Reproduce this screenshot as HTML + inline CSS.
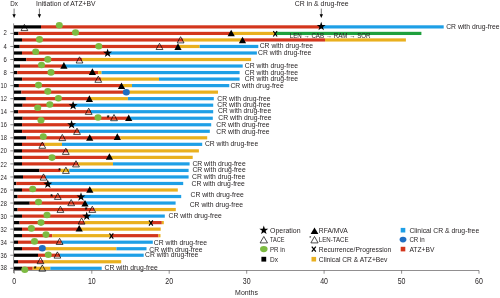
<!DOCTYPE html>
<html lang="en"><head><meta charset="utf-8"><title>Swimmer plot</title>
<style>html,body{margin:0;padding:0;background:#fff}body{width:500px;height:298px;overflow:hidden}svg{display:block}text{font-family:"Liberation Sans",sans-serif;font-size:7.3px;fill:#231F20}</style></head><body>
<svg width="500" height="298" viewBox="0 0 500 298">
<rect width="500" height="298" fill="#fff"/>
<g>
<rect x="14.0" y="25.30" width="27.0" height="3.2" fill="#000000"/>
<rect x="41.0" y="25.30" width="280.2" height="3.2" fill="#D3361C"/>
<rect x="321.2" y="25.30" width="122.5" height="3.2" fill="#1E9FE6"/>
<rect x="14.0" y="31.82" width="4.5" height="3.2" fill="#000000"/>
<rect x="18.5" y="31.82" width="212.7" height="3.2" fill="#D3361C"/>
<rect x="231.2" y="31.82" width="44.0" height="3.2" fill="#E9B01E"/>
<rect x="275.2" y="31.82" width="146.2" height="3.2" fill="#1FA03C"/>
<rect x="14.0" y="38.35" width="8.0" height="3.2" fill="#000000"/>
<rect x="22.0" y="38.35" width="161.0" height="3.2" fill="#D3361C"/>
<rect x="183.0" y="38.35" width="59.5" height="3.2" fill="#E9B01E"/>
<rect x="242.5" y="38.35" width="82.5" height="3.2" fill="#D3361C"/>
<rect x="325.0" y="38.35" width="80.9" height="3.2" fill="#E9B01E"/>
<rect x="14.0" y="44.87" width="5.7" height="3.2" fill="#000000"/>
<rect x="19.7" y="44.87" width="158.3" height="3.2" fill="#D3361C"/>
<rect x="178.0" y="44.87" width="21.7" height="3.2" fill="#E9B01E"/>
<rect x="199.7" y="44.87" width="58.6" height="3.2" fill="#1E9FE6"/>
<rect x="14.0" y="51.40" width="8.0" height="3.2" fill="#000000"/>
<rect x="22.0" y="51.40" width="85.6" height="3.2" fill="#D3361C"/>
<rect x="107.6" y="51.40" width="149.3" height="3.2" fill="#1E9FE6"/>
<rect x="14.0" y="57.92" width="12.2" height="3.2" fill="#000000"/>
<rect x="26.2" y="57.92" width="55.8" height="3.2" fill="#D3361C"/>
<rect x="82.0" y="57.92" width="169.1" height="3.2" fill="#E9B01E"/>
<rect x="14.0" y="64.44" width="6.0" height="3.2" fill="#000000"/>
<rect x="20.0" y="64.44" width="44.6" height="3.2" fill="#D3361C"/>
<rect x="64.6" y="64.44" width="178.1" height="3.2" fill="#1E9FE6"/>
<rect x="14.0" y="70.97" width="3.3" height="3.2" fill="#000000"/>
<rect x="17.3" y="70.97" width="80.8" height="3.2" fill="#D3361C"/>
<rect x="98.1" y="70.97" width="3.5" height="3.2" fill="#E9B01E"/>
<rect x="101.6" y="70.97" width="138.0" height="3.2" fill="#1E9FE6"/>
<rect x="14.0" y="77.49" width="8.1" height="3.2" fill="#000000"/>
<rect x="22.1" y="77.49" width="78.9" height="3.2" fill="#D3361C"/>
<rect x="101.0" y="77.49" width="58.0" height="3.2" fill="#E9B01E"/>
<rect x="159.0" y="77.49" width="80.6" height="3.2" fill="#1E9FE6"/>
<rect x="14.0" y="84.02" width="4.9" height="3.2" fill="#000000"/>
<rect x="18.9" y="84.02" width="102.6" height="3.2" fill="#D3361C"/>
<rect x="121.5" y="84.02" width="10.5" height="3.2" fill="#E9B01E"/>
<rect x="132.0" y="84.02" width="97.3" height="3.2" fill="#1E9FE6"/>
<rect x="14.0" y="90.54" width="7.4" height="3.2" fill="#000000"/>
<rect x="21.4" y="90.54" width="104.9" height="3.2" fill="#D3361C"/>
<rect x="126.3" y="90.54" width="91.7" height="3.2" fill="#E9B01E"/>
<rect x="14.0" y="97.06" width="11.9" height="3.2" fill="#000000"/>
<rect x="25.9" y="97.06" width="63.5" height="3.2" fill="#D3361C"/>
<rect x="89.4" y="97.06" width="38.5" height="3.2" fill="#E9B01E"/>
<rect x="127.9" y="97.06" width="85.9" height="3.2" fill="#1E9FE6"/>
<rect x="14.0" y="103.59" width="8.6" height="3.2" fill="#000000"/>
<rect x="22.6" y="103.59" width="50.5" height="3.2" fill="#D3361C"/>
<rect x="73.1" y="103.59" width="140.1" height="3.2" fill="#1E9FE6"/>
<rect x="14.0" y="110.11" width="4.2" height="3.2" fill="#000000"/>
<rect x="18.2" y="110.11" width="72.8" height="3.2" fill="#D3361C"/>
<rect x="91.0" y="110.11" width="122.2" height="3.2" fill="#1E9FE6"/>
<rect x="14.0" y="116.64" width="8.6" height="3.2" fill="#000000"/>
<rect x="22.6" y="116.64" width="106.1" height="3.2" fill="#D3361C"/>
<rect x="128.7" y="116.64" width="84.1" height="3.2" fill="#1E9FE6"/>
<rect x="14.0" y="123.16" width="8.1" height="3.2" fill="#000000"/>
<rect x="22.1" y="123.16" width="49.5" height="3.2" fill="#D3361C"/>
<rect x="71.6" y="123.16" width="139.6" height="3.2" fill="#1E9FE6"/>
<rect x="14.0" y="129.68" width="8.1" height="3.2" fill="#000000"/>
<rect x="22.1" y="129.68" width="57.2" height="3.2" fill="#D3361C"/>
<rect x="79.3" y="129.68" width="130.5" height="3.2" fill="#1E9FE6"/>
<rect x="14.0" y="136.21" width="12.4" height="3.2" fill="#000000"/>
<rect x="26.4" y="136.21" width="94.0" height="3.2" fill="#D3361C"/>
<rect x="120.4" y="136.21" width="86.8" height="3.2" fill="#E9B01E"/>
<rect x="14.0" y="142.73" width="8.0" height="3.2" fill="#000000"/>
<rect x="22.0" y="142.73" width="22.6" height="3.2" fill="#D3361C"/>
<rect x="44.6" y="142.73" width="17.4" height="3.2" fill="#E9B01E"/>
<rect x="62.0" y="142.73" width="140.2" height="3.2" fill="#1E9FE6"/>
<rect x="14.0" y="149.26" width="8.0" height="3.2" fill="#000000"/>
<rect x="22.0" y="149.26" width="46.2" height="3.2" fill="#D3361C"/>
<rect x="68.2" y="149.26" width="130.7" height="3.2" fill="#E9B01E"/>
<rect x="14.0" y="155.78" width="8.0" height="3.2" fill="#000000"/>
<rect x="22.0" y="155.78" width="87.4" height="3.2" fill="#D3361C"/>
<rect x="109.4" y="155.78" width="83.3" height="3.2" fill="#E9B01E"/>
<rect x="14.0" y="162.30" width="8.0" height="3.2" fill="#000000"/>
<rect x="22.0" y="162.30" width="56.3" height="3.2" fill="#D3361C"/>
<rect x="78.3" y="162.30" width="34.7" height="3.2" fill="#E9B01E"/>
<rect x="113.0" y="162.30" width="76.6" height="3.2" fill="#1E9FE6"/>
<rect x="14.0" y="168.83" width="25.5" height="3.2" fill="#000000"/>
<rect x="39.5" y="168.83" width="21.0" height="3.2" fill="#D3361C"/>
<rect x="60.5" y="168.83" width="8.7" height="3.2" fill="#E9B01E"/>
<rect x="69.2" y="168.83" width="119.4" height="3.2" fill="#1E9FE6"/>
<rect x="14.0" y="175.35" width="9.0" height="3.2" fill="#000000"/>
<rect x="23.0" y="175.35" width="22.8" height="3.2" fill="#D3361C"/>
<rect x="45.8" y="175.35" width="142.8" height="3.2" fill="#1E9FE6"/>
<rect x="14.0" y="181.88" width="2.3" height="3.2" fill="#000000"/>
<rect x="16.3" y="181.88" width="31.5" height="3.2" fill="#D3361C"/>
<rect x="47.8" y="181.88" width="135.4" height="3.2" fill="#1E9FE6"/>
<rect x="14.0" y="188.40" width="8.0" height="3.2" fill="#000000"/>
<rect x="22.0" y="188.40" width="67.8" height="3.2" fill="#D3361C"/>
<rect x="89.8" y="188.40" width="88.0" height="3.2" fill="#E9B01E"/>
<rect x="14.0" y="194.92" width="3.6" height="3.2" fill="#000000"/>
<rect x="17.6" y="194.92" width="63.4" height="3.2" fill="#D3361C"/>
<rect x="81.0" y="194.92" width="100.2" height="3.2" fill="#1E9FE6"/>
<rect x="14.0" y="201.45" width="15.7" height="3.2" fill="#000000"/>
<rect x="29.7" y="201.45" width="56.3" height="3.2" fill="#D3361C"/>
<rect x="86.0" y="201.45" width="89.6" height="3.2" fill="#1E9FE6"/>
<rect x="14.0" y="207.97" width="3.6" height="3.2" fill="#000000"/>
<rect x="17.6" y="207.97" width="77.0" height="3.2" fill="#D3361C"/>
<rect x="94.6" y="207.97" width="81.2" height="3.2" fill="#E9B01E"/>
<rect x="14.0" y="214.50" width="8.0" height="3.2" fill="#000000"/>
<rect x="22.0" y="214.50" width="64.7" height="3.2" fill="#D3361C"/>
<rect x="86.7" y="214.50" width="78.1" height="3.2" fill="#1E9FE6"/>
<rect x="14.0" y="221.02" width="5.6" height="3.2" fill="#000000"/>
<rect x="19.6" y="221.02" width="64.9" height="3.2" fill="#D3361C"/>
<rect x="84.5" y="221.02" width="66.4" height="3.2" fill="#E9B01E"/>
<rect x="150.9" y="221.02" width="10.9" height="3.2" fill="#D3361C"/>
<rect x="161.8" y="221.02" width="2.0" height="3.2" fill="#E9B01E"/>
<rect x="14.0" y="227.54" width="8.0" height="3.2" fill="#000000"/>
<rect x="22.0" y="227.54" width="57.7" height="3.2" fill="#D3361C"/>
<rect x="79.7" y="227.54" width="81.0" height="3.2" fill="#E9B01E"/>
<rect x="14.0" y="234.07" width="8.0" height="3.2" fill="#000000"/>
<rect x="22.0" y="234.07" width="30.2" height="3.2" fill="#D3361C"/>
<rect x="52.2" y="234.07" width="59.2" height="3.2" fill="#E9B01E"/>
<rect x="111.4" y="234.07" width="47.1" height="3.2" fill="#D3361C"/>
<rect x="158.5" y="234.07" width="2.0" height="3.2" fill="#E9B01E"/>
<rect x="14.0" y="240.59" width="4.0" height="3.2" fill="#000000"/>
<rect x="18.0" y="240.59" width="43.6" height="3.2" fill="#D3361C"/>
<rect x="61.6" y="240.59" width="91.2" height="3.2" fill="#1E9FE6"/>
<rect x="14.0" y="247.12" width="8.0" height="3.2" fill="#000000"/>
<rect x="22.0" y="247.12" width="20.3" height="3.2" fill="#D3361C"/>
<rect x="42.3" y="247.12" width="74.1" height="3.2" fill="#E9B01E"/>
<rect x="116.4" y="247.12" width="30.1" height="3.2" fill="#1E9FE6"/>
<rect x="14.0" y="253.64" width="24.0" height="3.2" fill="#000000"/>
<rect x="38.0" y="253.64" width="22.0" height="3.2" fill="#D3361C"/>
<rect x="60.0" y="253.64" width="83.7" height="3.2" fill="#1E9FE6"/>
<rect x="14.0" y="260.16" width="4.0" height="3.2" fill="#000000"/>
<rect x="18.0" y="260.16" width="25.5" height="3.2" fill="#D3361C"/>
<rect x="43.5" y="260.16" width="77.7" height="3.2" fill="#E9B01E"/>
<rect x="14.0" y="266.69" width="8.0" height="3.2" fill="#000000"/>
<rect x="22.0" y="266.69" width="10.7" height="3.2" fill="#D3361C"/>
<rect x="32.7" y="266.69" width="17.6" height="3.2" fill="#E9B01E"/>
<rect x="50.3" y="266.69" width="51.4" height="3.2" fill="#1E9FE6"/>
</g>
<g stroke="#231F20" stroke-width="0.5" fill="none">
<path d="M13.6 23.4V273"/>
<path d="M13.6 270.5H479"/>
<path d="M10.3 33.42H13.6"/>
<path d="M10.3 46.47H13.6"/>
<path d="M10.3 59.52H13.6"/>
<path d="M10.3 72.57H13.6"/>
<path d="M10.3 85.62H13.6"/>
<path d="M10.3 98.66H13.6"/>
<path d="M10.3 111.71H13.6"/>
<path d="M10.3 124.76H13.6"/>
<path d="M10.3 137.81H13.6"/>
<path d="M10.3 150.86H13.6"/>
<path d="M10.3 163.90H13.6"/>
<path d="M10.3 176.95H13.6"/>
<path d="M10.3 190.00H13.6"/>
<path d="M10.3 203.05H13.6"/>
<path d="M10.3 216.10H13.6"/>
<path d="M10.3 229.14H13.6"/>
<path d="M10.3 242.19H13.6"/>
<path d="M10.3 255.24H13.6"/>
<path d="M10.3 268.29H13.6"/>
<path d="M14.3 270.5V273.7"/>
<path d="M91.8 270.5V273.7"/>
<path d="M169.2 270.5V273.7"/>
<path d="M246.7 270.5V273.7"/>
<path d="M324.1 270.5V273.7"/>
<path d="M401.6 270.5V273.7"/>
<path d="M479.0 270.5V273.7"/>
</g>
<g style="font-size:8.2px">
<text x="3.6" y="35.42" textLength="3.3" lengthAdjust="spacingAndGlyphs">2</text>
<text x="3.6" y="49.07" textLength="3.3" lengthAdjust="spacingAndGlyphs">4</text>
<text x="3.6" y="62.12" textLength="3.3" lengthAdjust="spacingAndGlyphs">6</text>
<text x="3.6" y="75.17" textLength="3.3" lengthAdjust="spacingAndGlyphs">8</text>
<text x="0.6" y="88.22" textLength="6.3" lengthAdjust="spacingAndGlyphs">10</text>
<text x="0.6" y="101.26" textLength="6.3" lengthAdjust="spacingAndGlyphs">12</text>
<text x="0.6" y="114.31" textLength="6.3" lengthAdjust="spacingAndGlyphs">14</text>
<text x="0.6" y="127.36" textLength="6.3" lengthAdjust="spacingAndGlyphs">16</text>
<text x="0.6" y="140.41" textLength="6.3" lengthAdjust="spacingAndGlyphs">18</text>
<text x="0.6" y="153.46" textLength="6.3" lengthAdjust="spacingAndGlyphs">20</text>
<text x="0.6" y="166.50" textLength="6.3" lengthAdjust="spacingAndGlyphs">22</text>
<text x="0.6" y="179.55" textLength="6.3" lengthAdjust="spacingAndGlyphs">24</text>
<text x="0.6" y="192.60" textLength="6.3" lengthAdjust="spacingAndGlyphs">26</text>
<text x="0.6" y="205.65" textLength="6.3" lengthAdjust="spacingAndGlyphs">28</text>
<text x="0.6" y="218.70" textLength="6.3" lengthAdjust="spacingAndGlyphs">30</text>
<text x="0.6" y="231.74" textLength="6.3" lengthAdjust="spacingAndGlyphs">32</text>
<text x="0.6" y="244.79" textLength="6.3" lengthAdjust="spacingAndGlyphs">34</text>
<text x="0.6" y="257.84" textLength="6.3" lengthAdjust="spacingAndGlyphs">36</text>
<text x="0.6" y="270.39" textLength="6.3" lengthAdjust="spacingAndGlyphs">38</text>
</g>
<g text-anchor="middle">
<text x="14.3" y="283.7" style="font-size:8.2px" textLength="3.9" lengthAdjust="spacingAndGlyphs">0</text>
<text x="91.8" y="283.7" style="font-size:8.2px" textLength="7.8" lengthAdjust="spacingAndGlyphs">10</text>
<text x="169.2" y="283.7" style="font-size:8.2px" textLength="7.8" lengthAdjust="spacingAndGlyphs">20</text>
<text x="246.7" y="283.7" style="font-size:8.2px" textLength="7.8" lengthAdjust="spacingAndGlyphs">30</text>
<text x="324.1" y="283.7" style="font-size:8.2px" textLength="7.8" lengthAdjust="spacingAndGlyphs">40</text>
<text x="401.6" y="283.7" style="font-size:8.2px" textLength="7.8" lengthAdjust="spacingAndGlyphs">50</text>
<text x="479.0" y="283.7" style="font-size:8.2px" textLength="7.8" lengthAdjust="spacingAndGlyphs">60</text>
<text x="246.5" y="295.3" textLength="22.8" lengthAdjust="spacingAndGlyphs">Months</text>
</g>
<g>
<ellipse cx="59.3" cy="25.3" rx="3.5" ry="3.3" fill="#7DBB42"/>
<ellipse cx="75.5" cy="32.5" rx="3.5" ry="3.3" fill="#7DBB42"/>
<ellipse cx="39.5" cy="39.4" rx="3.5" ry="3.3" fill="#7DBB42"/>
<ellipse cx="98.8" cy="46.2" rx="3.5" ry="3.3" fill="#7DBB42"/>
<ellipse cx="35.7" cy="51.8" rx="3.5" ry="3.3" fill="#7DBB42"/>
<ellipse cx="47.8" cy="59.4" rx="3.5" ry="3.3" fill="#7DBB42"/>
<ellipse cx="41.5" cy="65" rx="3.5" ry="3.3" fill="#7DBB42"/>
<ellipse cx="51" cy="72.4" rx="3.5" ry="3.3" fill="#7DBB42"/>
<ellipse cx="38.5" cy="85.1" rx="3.5" ry="3.3" fill="#7DBB42"/>
<ellipse cx="47.8" cy="91.4" rx="3.5" ry="3.3" fill="#7DBB42"/>
<ellipse cx="58.4" cy="98.2" rx="3.5" ry="3.3" fill="#7DBB42"/>
<ellipse cx="49.8" cy="104.5" rx="3.5" ry="3.3" fill="#7DBB42"/>
<ellipse cx="37.7" cy="107.7" rx="3.5" ry="3.3" fill="#7DBB42"/>
<ellipse cx="98" cy="117.5" rx="3.5" ry="3.3" fill="#7DBB42"/>
<ellipse cx="41" cy="120.3" rx="3.5" ry="3.3" fill="#7DBB42"/>
<ellipse cx="43.3" cy="136.6" rx="3.5" ry="3.3" fill="#7DBB42"/>
<ellipse cx="52" cy="157.6" rx="3.5" ry="3.3" fill="#7DBB42"/>
<ellipse cx="32.7" cy="189" rx="3.5" ry="3.3" fill="#7DBB42"/>
<ellipse cx="38.5" cy="202" rx="3.5" ry="3.3" fill="#7DBB42"/>
<ellipse cx="47" cy="215" rx="3.5" ry="3.3" fill="#7DBB42"/>
<ellipse cx="41" cy="222.6" rx="3.5" ry="3.3" fill="#7DBB42"/>
<ellipse cx="31.4" cy="228.4" rx="3.5" ry="3.3" fill="#7DBB42"/>
<ellipse cx="46" cy="234.6" rx="3.5" ry="3.3" fill="#7DBB42"/>
<ellipse cx="34.5" cy="241.4" rx="3.5" ry="3.3" fill="#7DBB42"/>
<ellipse cx="48.3" cy="254.8" rx="3.5" ry="3.3" fill="#7DBB42"/>
<ellipse cx="24.8" cy="269.7" rx="3.5" ry="3.3" fill="#7DBB42"/>
<ellipse cx="126.3" cy="92.2" rx="3.5" ry="3.2" fill="#1F6FC4"/>
<ellipse cx="42.3" cy="248.2" rx="3.5" ry="3.2" fill="#1F6FC4"/>
<polygon points="24.40,24.40 27.80,30.60 21.00,30.60" fill="none" stroke="#000" stroke-width="0.7"/>
<polygon points="180.60,36.70 184.00,42.90 177.20,42.90" fill="none" stroke="#000" stroke-width="0.7"/>
<polygon points="159.50,43.30 162.90,49.50 156.10,49.50" fill="none" stroke="#000" stroke-width="0.7"/>
<polygon points="79.50,56.80 82.90,63.00 76.10,63.00" fill="none" stroke="#000" stroke-width="0.7"/>
<polygon points="98.30,76.10 101.70,82.30 94.90,82.30" fill="none" stroke="#000" stroke-width="0.7"/>
<polygon points="88.70,108.20 92.10,114.40 85.30,114.40" fill="none" stroke="#000" stroke-width="0.7"/>
<polygon points="114.00,114.50 117.40,120.70 110.60,120.70" fill="none" stroke="#000" stroke-width="0.7"/>
<polygon points="77.00,128.20 80.40,134.40 73.60,134.40" fill="none" stroke="#000" stroke-width="0.7"/>
<polygon points="62.30,134.40 65.70,140.60 58.90,140.60" fill="none" stroke="#000" stroke-width="0.7"/>
<polygon points="42.30,142.10 45.70,148.30 38.90,148.30" fill="none" stroke="#000" stroke-width="0.7"/>
<polygon points="65.80,148.20 69.20,154.40 62.40,154.40" fill="none" stroke="#000" stroke-width="0.7"/>
<polygon points="76.00,160.70 79.40,166.90 72.60,166.90" fill="none" stroke="#000" stroke-width="0.7"/>
<polygon points="65.90,167.20 69.30,173.40 62.50,173.40" fill="none" stroke="#000" stroke-width="0.7"/>
<polygon points="43.50,173.90 46.90,180.10 40.10,180.10" fill="none" stroke="#000" stroke-width="0.7"/>
<polygon points="57.80,193.20 61.20,199.40 54.40,199.40" fill="none" stroke="#000" stroke-width="0.7"/>
<polygon points="71.20,199.50 74.60,205.70 67.80,205.70" fill="none" stroke="#000" stroke-width="0.7"/>
<polygon points="60.40,206.20 63.80,212.40 57.00,212.40" fill="none" stroke="#000" stroke-width="0.7"/>
<polygon points="92.30,206.20 95.70,212.40 88.90,212.40" fill="none" stroke="#000" stroke-width="0.7"/>
<polygon points="81.60,217.90 85.00,224.10 78.20,224.10" fill="none" stroke="#000" stroke-width="0.7"/>
<polygon points="59.60,238.30 63.00,244.50 56.20,244.50" fill="none" stroke="#000" stroke-width="0.7"/>
<polygon points="57.40,251.90 60.80,258.10 54.00,258.10" fill="none" stroke="#000" stroke-width="0.7"/>
<polygon points="40.50,257.50 43.90,263.70 37.10,263.70" fill="none" stroke="#000" stroke-width="0.7"/>
<polygon points="42.30,265.00 45.70,271.20 38.90,271.20" fill="none" stroke="#000" stroke-width="0.7"/>
<polygon points="231.20,29.70 234.80,36.30 227.60,36.30" fill="#000"/>
<polygon points="242.50,36.70 246.10,43.30 238.90,43.30" fill="#000"/>
<polygon points="178.00,43.30 181.60,49.90 174.40,49.90" fill="#000"/>
<polygon points="63.90,62.10 67.50,68.70 60.30,68.70" fill="#000"/>
<polygon points="92.40,68.30 96.00,74.90 88.80,74.90" fill="#000"/>
<polygon points="121.50,82.40 125.10,89.00 117.90,89.00" fill="#000"/>
<polygon points="89.40,95.30 93.00,101.90 85.80,101.90" fill="#000"/>
<polygon points="128.70,114.50 132.30,121.10 125.10,121.10" fill="#000"/>
<polygon points="89.70,134.20 93.30,140.80 86.10,140.80" fill="#000"/>
<polygon points="117.30,133.30 120.90,139.90 113.70,139.90" fill="#000"/>
<polygon points="109.40,153.20 113.00,159.80 105.80,159.80" fill="#000"/>
<polygon points="89.80,186.20 93.40,192.80 86.20,192.80" fill="#000"/>
<polygon points="85.00,200.00 88.60,206.60 81.40,206.60" fill="#000"/>
<polygon points="79.20,225.00 82.80,231.60 75.60,231.60" fill="#000"/>
<polygon points="321.20,21.70 322.29,24.90 325.67,24.95 322.96,26.97 323.96,30.20 321.20,28.25 318.44,30.20 319.44,26.97 316.73,24.95 320.11,24.90" fill="#000"/>
<polygon points="107.60,48.50 108.69,51.70 112.07,51.75 109.36,53.77 110.36,57.00 107.60,55.05 104.84,57.00 105.84,53.77 103.13,51.75 106.51,51.70" fill="#000"/>
<polygon points="73.10,100.90 74.19,104.10 77.57,104.15 74.86,106.17 75.86,109.40 73.10,107.45 70.34,109.40 71.34,106.17 68.63,104.15 72.01,104.10" fill="#000"/>
<polygon points="71.60,120.00 72.69,123.20 76.07,123.25 73.36,125.27 74.36,128.50 71.60,126.55 68.84,128.50 69.84,125.27 67.13,123.25 70.51,123.20" fill="#000"/>
<polygon points="47.80,179.40 48.89,182.60 52.27,182.65 49.56,184.67 50.56,187.90 47.80,185.95 45.04,187.90 46.04,184.67 43.33,182.65 46.71,182.60" fill="#000"/>
<polygon points="81.00,192.20 82.09,195.40 85.47,195.45 82.76,197.47 83.76,200.70 81.00,198.75 78.24,200.70 79.24,197.47 76.53,195.45 79.91,195.40" fill="#000"/>
<polygon points="86.70,211.50 87.79,214.70 91.17,214.75 88.46,216.77 89.46,220.00 86.70,218.05 83.94,220.00 84.94,216.77 82.23,214.75 85.61,214.70" fill="#000"/>
<path d="M273.30 31.10L277.10 36.50M277.10 31.10L273.30 36.50" stroke="#000" stroke-width="1.15" fill="none"/>
<path d="M149.00 220.30L152.80 225.70M152.80 220.30L149.00 225.70" stroke="#000" stroke-width="1.15" fill="none"/>
<path d="M109.50 233.30L113.30 238.70M113.30 233.30L109.50 238.70" stroke="#000" stroke-width="1.15" fill="none"/>
<text x="108" y="120.39999999999999" text-anchor="middle" style="font-size:7px;font-weight:bold;fill:#000">*</text>
<text x="59.6" y="173.1" text-anchor="middle" style="font-size:7px;font-weight:bold;fill:#000">*</text>
<text x="51.6" y="199.1" text-anchor="middle" style="font-size:7px;font-weight:bold;fill:#000">*</text>
<text x="86" y="212.1" text-anchor="middle" style="font-size:7px;font-weight:bold;fill:#000">*</text>
<text x="35.2" y="270.90000000000003" text-anchor="middle" style="font-size:7px;font-weight:bold;fill:#000">*</text>
</g>
<g>
<text x="446.2" y="28.90" textLength="53.3" lengthAdjust="spacingAndGlyphs">CR with drug-free</text>
<text x="259.7" y="48.00" textLength="53.3" lengthAdjust="spacingAndGlyphs">CR with drug-free</text>
<text x="258.0" y="55.00" textLength="53.3" lengthAdjust="spacingAndGlyphs">CR with drug-free</text>
<text x="244.8" y="68.04" textLength="53.3" lengthAdjust="spacingAndGlyphs">CR with drug-free</text>
<text x="244.8" y="74.57" textLength="53.3" lengthAdjust="spacingAndGlyphs">CR with drug-free</text>
<text x="244.8" y="81.00" textLength="53.3" lengthAdjust="spacingAndGlyphs">CR with drug-free</text>
<text x="230.4" y="87.60" textLength="53.3" lengthAdjust="spacingAndGlyphs">CR with drug-free</text>
<text x="217.3" y="101.20" textLength="53.3" lengthAdjust="spacingAndGlyphs">CR with drug-free</text>
<text x="217.3" y="106.90" textLength="53.3" lengthAdjust="spacingAndGlyphs">CR with drug-free</text>
<text x="217.9" y="113.30" textLength="53.3" lengthAdjust="spacingAndGlyphs">CR with drug-free</text>
<text x="218.3" y="120.00" textLength="53.3" lengthAdjust="spacingAndGlyphs">CR with drug-free</text>
<text x="216.3" y="127.40" textLength="53.3" lengthAdjust="spacingAndGlyphs">CR with drug-free</text>
<text x="216.3" y="134.10" textLength="53.3" lengthAdjust="spacingAndGlyphs">CR with drug-free</text>
<text x="204.9" y="146.33" textLength="53.3" lengthAdjust="spacingAndGlyphs">CR with drug-free</text>
<text x="192.4" y="165.90" textLength="53.3" lengthAdjust="spacingAndGlyphs">CR with drug-free</text>
<text x="192.4" y="172.43" textLength="53.3" lengthAdjust="spacingAndGlyphs">CR with drug-free</text>
<text x="192.0" y="178.95" textLength="53.3" lengthAdjust="spacingAndGlyphs">CR with drug-free</text>
<text x="191.6" y="186.40" textLength="53.3" lengthAdjust="spacingAndGlyphs">CR with drug-free</text>
<text x="190.5" y="197.20" textLength="53.3" lengthAdjust="spacingAndGlyphs">CR with drug-free</text>
<text x="189.7" y="206.80" textLength="53.3" lengthAdjust="spacingAndGlyphs">CR with drug-free</text>
<text x="168.5" y="218.10" textLength="53.3" lengthAdjust="spacingAndGlyphs">CR with drug-free</text>
<text x="153.8" y="244.90" textLength="53.3" lengthAdjust="spacingAndGlyphs">CR with drug-free</text>
<text x="149.3" y="251.90" textLength="53.3" lengthAdjust="spacingAndGlyphs">CR with drug-free</text>
<text x="145.0" y="257.40" textLength="53.3" lengthAdjust="spacingAndGlyphs">CR with drug-free</text>
<text x="104.5" y="270.29" textLength="53.3" lengthAdjust="spacingAndGlyphs">CR with drug-free</text>
<text x="289.7" y="38.2" textLength="80.9" lengthAdjust="spacingAndGlyphs">LEN → CAB → RAM → SOR</text>
</g>
<g>
<text x="10.3" y="6.2" textLength="7.7" lengthAdjust="spacingAndGlyphs">Dx</text>
<text x="36" y="6.2" textLength="59.6" lengthAdjust="spacingAndGlyphs">Initiation of ATZ+BV</text>
<text x="294.8" y="6.2" textLength="53.9" lengthAdjust="spacingAndGlyphs">CR in &amp; drug-free</text>
<path d="M14.1 8.6V15" stroke="#000" stroke-width="0.55" fill="none"/><polygon points="12.4,14.3 15.799999999999999,14.3 14.1,17.9" fill="#000"/>
<path d="M39.4 8.6V15" stroke="#000" stroke-width="0.55" fill="none"/><polygon points="37.699999999999996,14.3 41.1,14.3 39.4,17.9" fill="#000"/>
<path d="M321.3 8.6V15" stroke="#000" stroke-width="0.55" fill="none"/><polygon points="319.6,14.3 323.0,14.3 321.3,17.9" fill="#000"/>
</g>
<g>
<polygon points="263.80,225.60 264.89,228.80 268.27,228.85 265.56,230.87 266.56,234.10 263.80,232.15 261.04,234.10 262.04,230.87 259.33,228.85 262.71,228.80" fill="#000"/>
<text x="270" y="232.6" textLength="30.5" lengthAdjust="spacingAndGlyphs">Operation</text>
<polygon points="263.80,236.50 267.50,242.90 260.10,242.90" fill="none" stroke="#000" stroke-width="0.7"/>
<text x="270" y="242.0" textLength="14.5" lengthAdjust="spacingAndGlyphs">TACE</text>
<ellipse cx="263.8" cy="249.1" rx="3.8" ry="3.1" fill="#7DBB42"/>
<text x="270" y="251.5" textLength="15" lengthAdjust="spacingAndGlyphs">PR in</text>
<rect x="261.40000000000003" y="256.8" width="4.8" height="4.8" fill="#000"/>
<text x="270" y="261.59999999999997" textLength="8" lengthAdjust="spacingAndGlyphs">Dx</text>
<polygon points="314.50,227.40 318.40,234.00 310.60,234.00" fill="#000"/>
<text x="318.8" y="232.6" textLength="29" lengthAdjust="spacingAndGlyphs">RFA/MVA</text>
<polygon points="314.50,236.50 318.10,242.90 310.90,242.90" fill="none" stroke="#000" stroke-width="0.7"/>
<text x="310.3" y="240.2" text-anchor="middle" style="font-size:5px;fill:#000">*</text>
<text x="318.8" y="242.0" textLength="29.8" lengthAdjust="spacingAndGlyphs">LEN-TACE</text>
<path d="M311.80 246.60L315.80 251.60M315.80 246.60L311.80 251.60" stroke="#000" stroke-width="1.25" fill="none"/>
<text x="318.8" y="251.5" textLength="72.5" lengthAdjust="spacingAndGlyphs">Recurrence/Progression</text>
<rect x="311.5" y="256.9" width="4.6" height="4.6" fill="#E9B01E"/>
<text x="318.8" y="261.59999999999997" textLength="68.6" lengthAdjust="spacingAndGlyphs">Clinical CR &amp; ATZ+Bev</text>
<rect x="400.7" y="227.89999999999998" width="4.6" height="4.6" fill="#1E9FE6"/>
<text x="409.4" y="232.6" textLength="69.8" lengthAdjust="spacingAndGlyphs">Clinical CR &amp; drug-free</text>
<ellipse cx="403" cy="239.6" rx="3.4" ry="2.8" fill="#1F6FC4"/>
<text x="409.4" y="242.0" textLength="15.4" lengthAdjust="spacingAndGlyphs">CR in</text>
<rect x="400.7" y="246.79999999999998" width="4.6" height="4.6" fill="#D3361C"/>
<text x="409.4" y="251.5" textLength="25" lengthAdjust="spacingAndGlyphs">ATZ+BV</text>
</g>
</svg></body></html>
